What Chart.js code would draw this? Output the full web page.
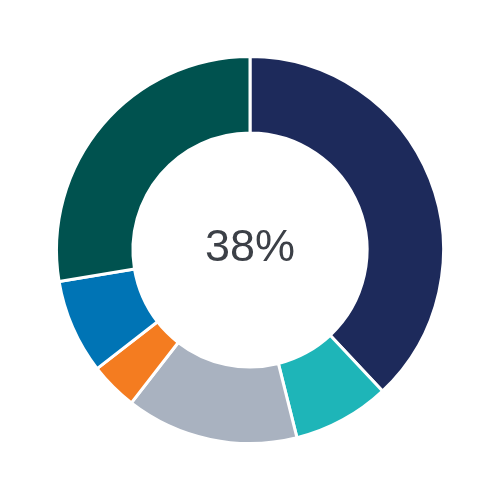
<!DOCTYPE html>
<html>
<head>
<meta charset="utf-8">
<script src="https://cdn.jsdelivr.net/npm/chart.js@4"></script>
<style>
  html, body { margin: 0; padding: 0; background: #fff; }
  #wrap { width: 500px; height: 500px; }
</style>
</head>
<body>
<div id="wrap"><canvas id="share"></canvas></div>
<script>
// Doughnut with the headline share in the middle

const labels = ['Segment A', 'Segment B', 'Segment C', 'Segment D', 'Segment E', 'Segment F']
const values = [38, 8.1, 14.4, 4, 7.9, 27.6] // clockwise from the top
const colors = ['#1d2a5b', '#1eb5b8', '#a9b2c0', '#f47c20', '#0074b5', '#00524f']
const centerText = '38%'

const centerLabel = {
  id: 'centerLabel',
  afterDraw(chart) {
    const meta = chart.getDatasetMeta(0).data[0]
    if (!meta) return
    const c = chart.ctx
    c.save()
    c.font = '45px "Liberation Sans", Arial, sans-serif'
    c.fillStyle = '#3c4047'
    c.textAlign = 'center'
    c.textBaseline = 'middle'
    c.fillText(centerText, meta.x, meta.y - 1)
    c.restore()
  }
}

const ctx = document.getElementById('share').getContext('2d')
new Chart(ctx, {
  type: 'doughnut',
  data: {
    labels: labels,
    datasets: [{
      data: values,
      backgroundColor: colors,
      borderColor: '#ffffff',
      borderWidth: 3
    }]
  },
  options: {
    responsive: true,
    maintainAspectRatio: false,
    animation: false,
    cutout: '60.5%',
    layout: { padding: 55 },
    plugins: {
      legend: { display: false },
      tooltip: { enabled: false }
    }
  },
  plugins: [centerLabel]
})
</script>
</body>
</html>
